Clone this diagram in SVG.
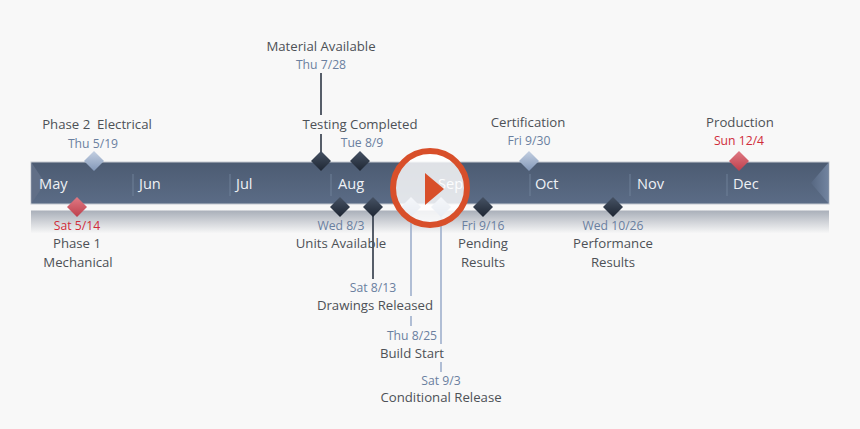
<svg xmlns="http://www.w3.org/2000/svg" width="860" height="429" viewBox="0 0 860 429">
<style>
text{font-family:"Open Sans","Noto Sans","Liberation Sans",sans-serif;text-anchor:middle;font-size:13.2px;fill:#4d5156;white-space:pre}
.d{fill:#6a7f9f;font-size:12.2px}
.r{fill:#d02c3a;font-size:12.2px}
.m{font-size:14.6px;fill:#eef1f5;text-anchor:start}
.c{stroke:#2f3846;stroke-width:1.6;fill:none}
.l{stroke:#9fb0cc;stroke-width:1.6;fill:none}
.sep{stroke:#6f8098;stroke-width:1;fill:none}
</style>
<defs>
<linearGradient id="bar" x1="0" y1="0" x2="0" y2="1"><stop offset="0" stop-color="#4c5b72"/><stop offset="1" stop-color="#5b6c86"/></linearGradient>
<linearGradient id="fade" x1="0" y1="0" x2="0" y2="1"><stop offset="0" stop-color="#a9afb9"/><stop offset="1" stop-color="#f8f8f8"/></linearGradient>
<linearGradient id="bev" x1="0" y1="0" x2="1" y2="0"><stop offset="0" stop-color="#566781"/><stop offset="1" stop-color="#7284a0"/></linearGradient>
<linearGradient id="dk" x1="0" y1="0" x2="0" y2="1"><stop offset="0" stop-color="#465264"/><stop offset="1" stop-color="#1e2633"/></linearGradient>
<linearGradient id="rd" x1="0" y1="0" x2="0" y2="1"><stop offset="0" stop-color="#e07a84"/><stop offset="1" stop-color="#bd3f4c"/></linearGradient>
<linearGradient id="bl" x1="0" y1="0" x2="0" y2="1"><stop offset="0" stop-color="#c4d0e2"/><stop offset="1" stop-color="#8297b8"/></linearGradient>
<path id="dia" d="M0-10L10 0 0 10-10 0Z"/>
</defs>
<rect width="860" height="429" fill="#f8f8f8"/>
<g id="timeline-band">
<rect x="31" y="210.500" width="798" height="23" fill="url(#fade)"/>
<rect x="31" y="162" width="798" height="42" fill="url(#bar)" stroke="#c3c8d0" stroke-width="1"/>
<path d="M31.500 162.500L45 183 31.500 203.500Z" fill="#616f87"/>
<path d="M828.500 162.500L811 183 828.500 203.500Z" fill="url(#bev)"/>
<path class="sep" d="M133 174V196M230 174V196M331 174V196M530 174V196M630 174V196M727 174V196"/>
<text class="m" x="39" y="189">May</text><text class="m" x="139" y="189">Jun</text><text class="m" x="236" y="189">Jul</text><text class="m" x="338" y="189">Aug</text><text class="m" x="438" y="189">Sep</text><text class="m" x="535" y="189">Oct</text><text class="m" x="637" y="189">Nov</text><text class="m" x="733" y="189">Dec</text>
</g>
<g id="connectors">
<path class="c" d="M321 73V115M321 134V153M373 216V279"/>
<path class="l" d="M411 216V296M411 316V326M441 216V344M441 362V372"/>
</g>
<g id="material-available"><use href="#dia" x="321" y="161" fill="url(#dk)"/><text x="321" y="51">Material Available</text><text class="d" x="321" y="69">Thu 7/28</text></g>
<g id="testing-completed"><use href="#dia" x="360" y="161" fill="url(#dk)"/><text x="360" y="129">Testing Completed</text><text class="d" x="362" y="147">Tue 8/9</text></g>
<g id="phase2"><use href="#dia" x="94" y="161" fill="url(#bl)"/><text x="97" y="129">Phase 2  Electrical</text><text class="d" x="93" y="148">Thu 5/19</text></g>
<g id="certification"><use href="#dia" x="529" y="161" fill="url(#bl)"/><text x="528" y="127">Certification</text><text class="d" x="529" y="145">Fri 9/30</text></g>
<g id="production"><use href="#dia" x="739" y="161" fill="url(#rd)"/><text x="740" y="127">Production</text><text class="r" x="739" y="145">Sun 12/4</text></g>
<g id="phase1"><use href="#dia" x="77" y="207" fill="url(#rd)"/><text class="r" x="77" y="230">Sat 5/14</text><text x="77" y="248">Phase 1</text><text x="78" y="267">Mechanical</text></g>
<g id="units-available"><use href="#dia" x="340" y="207" fill="url(#dk)"/><text class="d" x="341" y="230">Wed 8/3</text><text x="341" y="248">Units Available</text></g>
<g id="drawings-released"><use href="#dia" x="373" y="207" fill="url(#dk)"/><text class="d" x="373" y="292">Sat 8/13</text><text x="375" y="310">Drawings Released</text></g>
<g id="build-start"><use href="#dia" x="411" y="207" fill="url(#bl)"/><text class="d" x="412" y="340">Thu 8/25</text><text x="412" y="358">Build Start</text></g>
<g id="conditional-release"><use href="#dia" x="441" y="207" fill="url(#bl)"/><text class="d" x="441" y="385">Sat 9/3</text><text x="441" y="402">Conditional Release</text></g>
<g id="pending-results"><use href="#dia" x="483" y="207" fill="url(#dk)"/><text class="d" x="483" y="230">Fri 9/16</text><text x="483" y="248">Pending</text><text x="483" y="267">Results</text></g>
<g id="performance-results"><use href="#dia" x="613" y="207" fill="url(#dk)"/><text class="d" x="613" y="230">Wed 10/26</text><text x="613" y="248">Performance</text><text x="613" y="267">Results</text></g>
<g id="play-button">
<circle cx="430" cy="188" r="37" fill="#ffffff" fill-opacity="0.82" stroke="#d84f2a" stroke-width="6"/>
<path d="M425 173L444 189 425 205Z" fill="#d84f2a"/>
</g>
</svg>
